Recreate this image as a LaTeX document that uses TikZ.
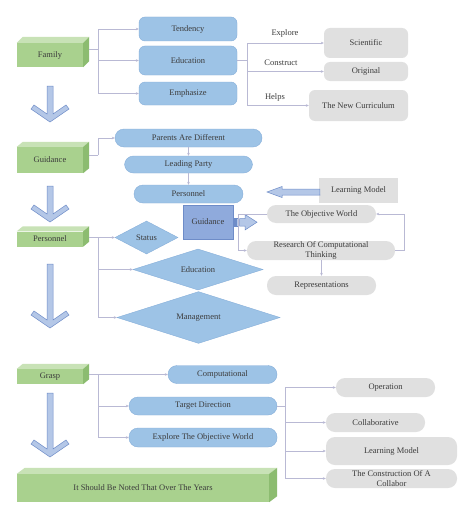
\documentclass[tikz,border=0pt]{standalone}
\usepackage{fontspec}
\setmainfont{Liberation Serif}
\usetikzlibrary{shapes.geometric,calc,arrows.meta}
\definecolor{gfront}{RGB}{169,209,142}
\definecolor{gtop}{RGB}{200,226,182}
\definecolor{gside}{RGB}{140,188,112}
\definecolor{bfill}{RGB}{157,195,230}
\definecolor{bdraw}{RGB}{135,175,218}
\definecolor{dfill}{RGB}{143,170,220}
\definecolor{ddraw}{RGB}{110,140,200}
\definecolor{gfill}{RGB}{224,224,224}
\definecolor{lnc}{RGB}{185,185,212}
\definecolor{afill}{RGB}{180,199,231}
\definecolor{adraw}{RGB}{110,140,200}
\definecolor{txt}{RGB}{60,60,60}
\newcommand\cubefaces[3]{%
  \fill[gtop] (#1.north west) -- ++(#2,-#3) -- ($(#1.north east)+(#2,-#3)$) -- (#1.north east) -- cycle;
  \fill[gside] (#1.north east) -- ++(#2,-#3) -- ($(#1.south east)+(#2,-#3)$) -- (#1.south east) -- cycle;}
\newcommand\bigdownarr[2]{%
  \filldraw[fill=afill,draw=adraw,line width=0.5pt,line join=miter]
    (47,#1) -- (47,#2-8) -- (34,#2-17) -- (31,#2-13) -- (50,#2) -- (69,#2-13) -- (66,#2-17) -- (53,#2-8) -- (53,#1) -- cycle;}
\begin{document}
\begin{tikzpicture}[x=1pt,y=-1pt,font=\fontsize{8.5}{9.5}\selectfont,text=txt,
  cube/.style={fill=gfront,inner sep=0pt,align=center},
  bbox/.style={fill=bfill,draw=bdraw,line width=0.4pt,rounded corners=6pt,inner sep=0pt,align=center},
  bstad/.style={fill=bfill,draw=bdraw,line width=0.4pt,rounded corners=9pt,inner sep=0pt,align=center},
  gbox/.style={fill=gfill,rounded corners=6pt,inner sep=0pt,align=center},
  gstad/.style={fill=gfill,rounded corners=9pt,inner sep=0pt,align=center},
  dia/.style={diamond,fill=bfill,draw=bdraw,line width=0.4pt,inner sep=0pt},
  ln/.style={draw=lnc,line width=0.5pt},
  lna/.style={ln,-{Stealth[length=3pt,width=2.6pt]}},
  lbl/.style={inner sep=0pt}]
\useasboundingbox (0,0) rectangle (474,519);
\fill[white] (0,0) rectangle (474,519);

% ---------- Family ----------
\node[cube,minimum width=66pt,minimum height=24pt] (fam) at (50,55) {Family};
\cubefaces{fam}{6}{6}
\coordinate (famR) at (89,49);
\coordinate (j1) at (98,49);
\node[bbox,minimum width=98pt,minimum height=24pt] (ten) at (188,29) {Tendency};
\node[bbox,minimum width=98pt,minimum height=29pt] (edu) at (188,60.5) {Education};
\node[bbox,minimum width=98pt,minimum height=23pt] (emp) at (188,93.5) {Emphasize};
\draw[ln] (famR) -- (j1);
\draw[lna] (j1) |- (ten);
\draw[lna] (j1) |- (edu);
\draw[lna] (j1) |- (emp);

\node[gbox,minimum width=84pt,minimum height=30pt] (sci) at (366,43) {Scientific};
\node[gbox,minimum width=84pt,minimum height=19pt] (ori) at (366,71.5) {Original};
\node[gbox,minimum width=99pt,minimum height=31pt] (cur) at (358.5,105.5) {The New Curriculum};
\coordinate (j2) at (247,60.5);
\draw[ln] (edu) -- (j2);
\draw[lna] (j2) |- (sci);
\draw[lna] (j2) |- (ori);
\draw[lna] (j2) |- (cur);
\node[lbl] (lex) at (285,33) {Explore};
\node[lbl] (lco) at (281,63) {Construct};
\node[lbl] (lhe) at (275,97) {Helps};

\bigdownarr{86}{122}

% ---------- Guidance ----------
\node[cube,minimum width=66pt,minimum height=26pt] (gui) at (50,160) {Guidance};
\cubefaces{gui}{6}{5}
\coordinate (guiR) at (89,155);
\coordinate (j3) at (98,155);
\node[bstad,minimum width=147pt,minimum height=18pt] (pad) at (188.5,138) {Parents Are Different};
\node[bstad,minimum width=128pt,minimum height=17pt] (lp) at (188.5,164.5) {Leading Party};
\node[bstad,minimum width=109pt,minimum height=18pt] (pn) at (188.5,194) {Personnel};
\draw[ln] (guiR) -- (j3);
\draw[lna] (j3) |- (pad);
\draw[lna] (pad) -- (lp);
\draw[lna] (lp) -- (pn);

\node[fill=dfill,draw=ddraw,line width=0.5pt,minimum width=50pt,minimum height=34pt,inner sep=0pt] (gsq) at (208,222) {Guidance};
\node[fill=gfill,minimum width=79pt,minimum height=25pt,inner sep=0pt] (lm1) at (358.5,190.5) {Learning Model};
\node[gstad,minimum width=109pt,minimum height=18pt] (ow) at (321.5,214) {The Objective World};
\node[gstad,minimum width=148pt,minimum height=19pt] (rct) at (321,250.5) {Research Of Computational\\Thinking};
\node[gstad,minimum width=109pt,minimum height=19pt] (rep) at (321.5,285.5) {Representations};

% block arrow from Learning Model
\filldraw[fill=afill,draw=adraw,line width=0.5pt]
  (lm1.west) ++(1,1.5) coordinate (la0) -- ++(0,-3) -- (282,189) -- (282,186.5) -- (267,192) -- (282,197.5) -- (282,195) -- (320,195) -- cycle;
% striped arrow from Guidance square
\filldraw[fill=afill,draw=adraw,line width=0.5pt] (234,218.5) rectangle (235.3,226);
\filldraw[fill=afill,draw=adraw,line width=0.5pt] (236.5,218.5) rectangle (238.2,226);
\filldraw[fill=afill,draw=adraw,line width=0.5pt]
  (239.5,218.5) -- (245,218.5) -- (245,214.5) -- (257,222.2) -- (245,230) -- (245,226) -- (239.5,226) -- cycle;

\coordinate (j4) at (238,214);
\draw[ln] (ow) -- (j4);
\draw[lna] (j4) |- (rct);
\coordinate (j5) at (404,250.5);
\draw[ln] (rct) -- (j5);
\draw[lna] (j5) |- (ow);
\draw[lna] (rct.south -| rep.north) -- (rep);

\bigdownarr{186}{222}

% ---------- Personnel ----------
\node[cube,minimum width=66pt,minimum height=15pt] (per) at (50,239) {Personnel};
\cubefaces{per}{6}{5}
\coordinate (perR) at (89,237.5);
\coordinate (j6) at (98,237.5);
\node[dia,minimum width=63pt,minimum height=33pt] (st) at (146.5,237.5) {Status};
\node[dia,minimum width=130pt,minimum height=41pt] (ed2) at (198,269.5) {Education};
\node[dia,minimum width=163pt,minimum height=41pt] (mg) at (198.5,317.5) {Management};
\draw[ln] (perR) -- (j6);
\draw[lna] (j6) -- (st);
\draw[lna] (j6) |- (ed2);
\draw[lna] (j6) |- (mg);

\bigdownarr{264}{328}

% ---------- Grasp ----------
\node[cube,minimum width=66pt,minimum height=15pt] (gra) at (50,376.5) {Grasp};
\cubefaces{gra}{6}{5}
\coordinate (graR) at (89,374.5);
\coordinate (j7) at (98,374.5);
\node[bstad,minimum width=109pt,minimum height=18pt] (cmp) at (222.5,374.5) {Computational};
\node[bstad,minimum width=148pt,minimum height=18pt] (td) at (203,406) {Target Direction};
\node[bstad,minimum width=148pt,minimum height=19pt] (eow) at (203,437.5) {Explore The Objective World};
\draw[ln] (graR) -- (j7);
\draw[lna] (j7) -- (cmp);
\draw[lna] (j7) |- (td);
\draw[lna] (j7) |- (eow);

\node[gstad,minimum width=99pt,minimum height=19pt] (op) at (385.5,387.5) {Operation};
\node[gstad,minimum width=99pt,minimum height=19pt] (col) at (375.5,422.5) {Collaborative};
\node[gstad,minimum width=131pt,minimum height=28pt] (lm2) at (391.5,451) {Learning Model};
\node[gstad,minimum width=131pt,minimum height=19pt] (con) at (391.5,478.5) {The Construction Of A\\Collabor};
\coordinate (j8) at (285,406);
\draw[ln] (td) -- (j8);
\draw[lna] (j8) |- (op);
\draw[lna] (j8) |- (col);
\draw[lna] (j8) |- (lm2);
\draw[lna] (j8) |- (con);

\bigdownarr{393}{457}

% ---------- final ----------
\node[cube,minimum width=252pt,minimum height=28pt] (fin) at (143,488) {It Should Be Noted That Over The Years};
\cubefaces{fin}{8}{6}
\end{tikzpicture}
\end{document}
